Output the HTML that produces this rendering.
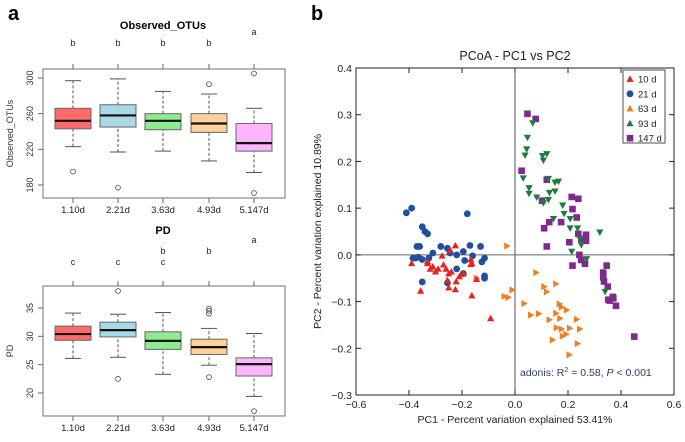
<!DOCTYPE html>
<html><head><meta charset="utf-8"><style>
body{margin:0;background:#fff;}
svg text{font-family:"Liberation Sans",sans-serif;}
</style></head><body>
<svg id="fig" width="685" height="437" viewBox="0 0 685 437" xmlns="http://www.w3.org/2000/svg">
<text x="8" y="20" font-size="20" font-weight="bold">a</text>
<text x="311" y="20" font-size="20" font-weight="bold">b</text>
<g id="boxA"></g>
<g id="boxB"></g>
<g id="pcoa"></g>
</svg>
<script>
const groups=["1.10d","2.21d","3.63d","4.93d","5.147d"];
const boxColors=["#ff6b6b","#a9d8e6","#8eea8e","#ffd09a","#ffb5ff"];
// [whiskerLow, q1, median, q3, whiskerHigh]
const otuStats=[[223,243,252,266,297],[217,245,258,270,299],[218,242,252,260,285],[207,239,249,260,282],[194,218,227,249,266]];
const otuOutliers=[[195],[177],[],[293],[305,171]];
const otuLetters=[["b"],["b"],["b"],["b"],["a"]];
const otuTicks=[180,220,260,300];
const pdStats=[[26.1,29.3,30.4,31.8,34.1],[26.3,29.9,31.1,32.5,33.9],[23.3,27.7,29.2,30.8,34.2],[24.9,26.8,28.1,29.5,31.4],[19.4,23.0,25.1,26.2,30.5]];
const pdOutliers=[[],[38.0,22.5],[],[34.9,34.5,34.0,22.8],[16.8]];
const pdLetters=[["c"],["c"],["b","c"],["b"],["a"]];
const pdTicks=[20,25,30,35];

const NS="http://www.w3.org/2000/svg";
function mk(parent,tag,attrs,text){const e=document.createElementNS(NS,tag);for(const k in attrs)e.setAttribute(k,attrs[k]);if(text!==undefined)e.textContent=text;parent.appendChild(e);return e;}

function boxplot(gid,o){
  const g=document.getElementById(gid);
  const xs=[73,118,163,209,254];
  const sy=v=>o.y0+(v-o.v0)*(o.y1-o.y0)/(o.v1-o.v0);
  let t=mk(g,'text',{x:163,y:o.titleY,'font-size':11,'font-weight':'bold','text-anchor':'middle'},o.title);
  
  
  let fr=mk(g,'rect',{x:43,y:o.top,width:242,height:o.bot-o.top,fill:'none',stroke:'#888','stroke-width':1.2});
  
  
  o.ticks.forEach(v=>{const y=sy(v);mk(g,'line',{x1:38,x2:43,y1:y,y2:y,stroke:'#666'});
    const tl=mk(g,'text',{x:0,y:0,'font-size':9,'text-anchor':'middle',fill:'#333',transform:`translate(33,${y}) rotate(-90)`},v);
    
    });
  const yt=mk(g,'text',{x:0,y:0,'font-size':9,'text-anchor':'middle',fill:'#333',transform:`translate(13,${(o.top+o.bot)/2}) rotate(-90)`},o.ylab);
  
  
  groups.forEach((gn,i)=>{const x=xs[i];const s=o.stats[i];
    mk(g,'line',{x1:x,x2:x,y1:o.bot,y2:o.bot+5,stroke:'#666'});
    mk(g,'line',{x1:x,x2:x,y1:o.top-5,y2:o.top,stroke:'#666'});
    const xl=mk(g,'text',{x:x,y:o.bot+15,'font-size':9.5,'text-anchor':'middle',fill:'#222'},gn);
    
    
    o.letters[i].forEach(l=>{const lt=mk(g,'text',{x:x,y:o.letterY-(2-'abc'.indexOf(l))*11,'font-size':9,'text-anchor':'middle',fill:'#222'},l);
      
      });
    mk(g,'line',{x1:x,x2:x,y1:sy(s[0]),y2:sy(s[1]),stroke:'#555','stroke-dasharray':'3,2'});
    mk(g,'line',{x1:x,x2:x,y1:sy(s[3]),y2:sy(s[4]),stroke:'#555','stroke-dasharray':'3,2'});
    mk(g,'line',{x1:x-8,x2:x+8,y1:sy(s[0]),y2:sy(s[0]),stroke:'#555'});
    mk(g,'line',{x1:x-8,x2:x+8,y1:sy(s[4]),y2:sy(s[4]),stroke:'#555'});
    const b=mk(g,'rect',{x:x-18,y:sy(s[3]),width:36,height:sy(s[1])-sy(s[3]),fill:boxColors[i],stroke:'#666'});
    
    
    mk(g,'line',{x1:x-18,x2:x+18,y1:sy(s[2]),y2:sy(s[2]),stroke:'#111','stroke-width':2.2});
    o.outs[i].forEach(v=>{const c=mk(g,'circle',{cx:x,cy:sy(v),r:2.4,fill:'none',stroke:'#444','stroke-width':0.8});
      
      });
  });
}
boxplot('boxA',{title:'Observed_OTUs',titleY:29,top:69,bot:198,v0:300,y0:78,v1:180,y1:185,ticks:otuTicks,ylab:'Observed_OTUs',stats:otuStats,outs:otuOutliers,letters:otuLetters,letterY:57});
boxplot('boxB',{title:'PD',titleY:234,top:286,bot:416,v0:35,y0:308,v1:20,y1:393,ticks:pdTicks,ylab:'PD',stats:pdStats,outs:pdOutliers,letters:pdLetters,letterY:265});

// PCoA data
const s10x=[-0.39,-0.33,-0.32,-0.30,-0.29,-0.275,-0.27,-0.26,-0.245,-0.225,-0.25,-0.24,-0.255,-0.222,-0.21,-0.195,-0.167,-0.163,-0.167,-0.145,-0.356,-0.25,-0.225,-0.163,-0.092,-0.33,-0.31];
const s10y=[-0.018,-0.018,-0.03,-0.036,-0.03,-0.002,-0.021,-0.03,0.01,0.02,-0.04,-0.036,-0.054,-0.057,-0.046,-0.04,-0.01,-0.018,-0.02,-0.052,-0.077,-0.07,-0.074,-0.087,-0.136,-0.014,-0.025];
const s21x=[-0.41,-0.39,-0.35,-0.34,-0.33,-0.18,-0.36,-0.28,-0.255,-0.22,-0.195,-0.17,-0.13,-0.375,-0.365,-0.385,-0.35,-0.31,-0.325,-0.245,-0.16,-0.115,-0.125,-0.19,-0.22,-0.195,-0.35,-0.115,-0.115,-0.255,-0.37];
const s21y=[0.09,0.10,0.06,0.05,0.045,0.088,0.018,0.018,0.014,0,0.007,0.02,0.018,-0.007,-0.005,-0.007,-0.01,0.004,-0.007,0.004,-0.002,-0.007,-0.015,-0.012,-0.03,-0.04,-0.058,-0.045,-0.05,-0.06,0.018];
const s63x=[-0.03,0.08,0.11,0.12,0.155,-0.01,-0.04,-0.025,0.035,0.06,0.09,0.13,0.168,0.176,0.195,0.155,0.17,0.157,0.176,0.207,0.245,0.233,0.193,0.18,0.142,0.236,0.205,-0.145];
const s63y=[0.019,-0.038,-0.068,-0.079,-0.062,-0.075,-0.089,-0.091,-0.104,-0.129,-0.126,-0.139,-0.105,-0.112,-0.118,-0.125,-0.136,-0.156,-0.159,-0.157,-0.159,-0.138,-0.17,-0.174,-0.182,-0.19,-0.214,-0.05];
const s93x=[0.067,0.047,0.044,0.038,0.104,0.12,0.107,0.031,0.053,0.053,0.082,0.126,0.151,0.164,0.13,0.151,0.126,0.107,0.145,0.18,0.185,0.208,0.208,0.236,0.245,0.25,0.214,0.27,0.32,0.34];
const s93y=[0.282,0.251,0.226,0.213,0.212,0.216,0.202,0.164,0.143,0.131,0.123,0.163,0.155,0.157,0.133,0.136,0.118,0.111,0.077,0.106,0.088,0.077,0.057,0.057,0.034,0.021,0.007,-0.009,0.048,-0.079];
const s147x=[0.047,0.078,0.025,0.12,0.102,0.11,0.129,0.174,0.214,0.239,0.217,0.233,0.205,0.12,0.239,0.268,0.268,0.25,0.243,0.25,0.264,0.217,0.346,0.333,0.333,0.336,0.35,0.369,0.358,0.381,0.45,0.371,0.352];
const s147y=[0.302,0.291,0.18,0.161,0.116,0.057,0.07,0.07,0.124,0.12,0.098,0.08,0.027,0.018,0.045,0.043,0.03,0.034,0,-0.011,-0.019,-0.023,-0.023,-0.038,-0.048,-0.057,-0.068,-0.09,-0.098,-0.109,-0.175,-0.093,-0.096];
const xTicks=[-0.6,-0.4,-0.2,0.0,0.2,0.4,0.6];
const yTicks=[0.4,0.3,0.2,0.1,0.0,-0.1,-0.2,-0.3];
const seriesNames=["10 d","21 d","63 d","93 d","147 d"];
const seriesColors=["#e5231f","#1f4fa0","#ef7f22","#1c7c3c","#7d2a8e"];

(function(){
  const g=document.getElementById('pcoa');
  const L=356,R=674,T=68,B=395;
  const sx=v=>L+(v+0.6)/1.2*(R-L);
  const sy=v=>T+(0.4-v)/0.7*(B-T);
  const t=mk(g,'text',{x:515,y:60,'font-size':12.5,'text-anchor':'middle',fill:'#222'},'PCoA - PC1 vs PC2');
  
  
  mk(g,'line',{x1:sx(0),x2:sx(0),y1:T,y2:B,stroke:'#444','stroke-width':0.9});
  mk(g,'line',{x1:L,x2:R,y1:sy(0),y2:sy(0),stroke:'#666','stroke-width':1});
  const fr=mk(g,'rect',{x:L,y:T,width:R-L,height:B-T,fill:'none',stroke:'#222','stroke-width':1});
  
  
  xTicks.forEach(v=>{const x=sx(v);mk(g,'line',{x1:x,x2:x,y1:B,y2:B-5,stroke:'#222'});mk(g,'line',{x1:x,x2:x,y1:T,y2:T+5,stroke:'#222'});
    const l=mk(g,'text',{x:x,y:B+13,'font-size':10.5,'text-anchor':'middle',fill:'#222'},(v<0?'\u2212':'')+Math.abs(v).toFixed(1));
    
    });
  yTicks.forEach(v=>{const y=sy(v);mk(g,'line',{x1:L,x2:L+5,y1:y,y2:y,stroke:'#222'});mk(g,'line',{x1:R,x2:R-5,y1:y,y2:y,stroke:'#222'});
    const l=mk(g,'text',{x:L-4,y:y+4,'font-size':10.5,'text-anchor':'end',fill:'#222'},(v<0?'\u2212':'')+Math.abs(v).toFixed(1));
    
    });
  const xt=mk(g,'text',{x:515,y:423,'font-size':10.5,'text-anchor':'middle',fill:'#222'},'PC1 - Percent variation explained 53.41%');
  
  
  const yt=mk(g,'text',{x:0,y:0,'font-size':10.5,'text-anchor':'middle',fill:'#222',transform:`translate(321,${(T+B)/2}) rotate(-90)`},'PC2 - Percent variation explained 10.89%');
  
  
  function marker(parent,kind,x,y,c){
    const s=3.6;let e;
    if(kind==='up')e=mk(parent,'polygon',{points:`${x},${y-s} ${x-s},${y+s*0.8} ${x+s},${y+s*0.8}`,fill:c});
    else if(kind==='down')e=mk(parent,'polygon',{points:`${x},${y+s} ${x-s},${y-s*0.8} ${x+s},${y-s*0.8}`,fill:c});
    else if(kind==='right')e=mk(parent,'polygon',{points:`${x+s},${y} ${x-s*0.8},${y-s} ${x-s*0.8},${y+s}`,fill:c});
    else if(kind==='circle')e=mk(parent,'circle',{cx:x,cy:y,r:3.4,fill:c});
    else e=mk(parent,'rect',{x:x-3.3,y:y-3.3,width:6.6,height:6.6,fill:c});
    return e;
  }
  const kinds=['up','circle','right','down','square'];
  const X=[s10x,s21x,s63x,s93x,s147x],Y=[s10y,s21y,s63y,s93y,s147y];
  const order=[4,3,2,1,0];
  order.forEach(k=>{const sg=mk(g,'g',{});
    
    
    X[k].forEach((v,i)=>{const m=marker(sg,kinds[k],sx(v),sy(Y[k][i]),seriesColors[k]);
      
      });});
  const lg=mk(g,'g',{});
  
  
  mk(lg,'rect',{x:623,y:70,width:42,height:73,fill:'#fff',stroke:'#222','stroke-width':0.8});
  seriesNames.forEach((n,k)=>{const y=79+k*14.8;
    const e=mk(lg,'g',{});
    
    
    marker(e,k===3?'up':(k===2?'up':kinds[k]),630,y,seriesColors[k]);
    mk(e,'text',{x:638,y:y+3.5,'font-size':9.5,fill:'#222'},n);});
  const an=mk(g,'text',{x:520,y:376,'font-size':10.5,fill:'#2b3a6b'});
  
  
  an.innerHTML='adonis: R<tspan font-size="7" dy="-4">2</tspan><tspan dy="4"> = 0.58, </tspan><tspan font-style="italic">P</tspan> &lt; 0.001';
})();
</script>
</body></html>
